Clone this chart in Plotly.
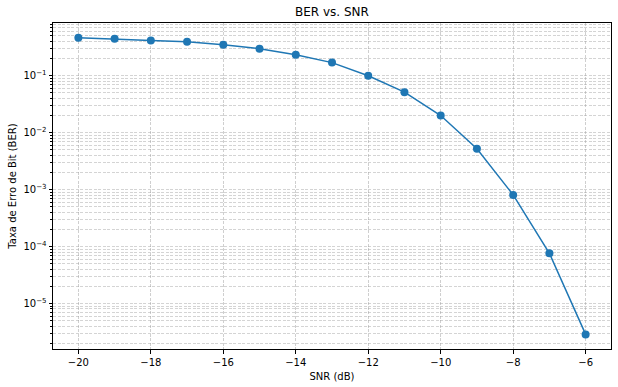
import plotly.graph_objects as go

snr_db = [-20, -19, -18, -17, -16, -15, -14, -13, -12, -11, -10, -9, -8, -7, -6]
ber = [0.463, 0.445, 0.416, 0.394, 0.350, 0.298, 0.234, 0.170, 0.100, 0.0514,
       0.020, 0.00523, 0.000806, 7.6e-5, 2.86e-6]
x_ticks = [-20, -18, -16, -14, -12, -10, -8, -6]
y_ticks = [1e-5, 1e-4, 1e-3, 1e-2, 1e-1]
y_tick_text = ["10<sup>−5</sup>", "10<sup>−4</sup>", "10<sup>−3</sup>", "10<sup>−2</sup>", "10<sup>−1</sup>"]
x_tick_text = ["−20", "−18", "−16", "−14", "−12", "−10", "−8", "−6"]

minor_vals = [m * 10.0 ** e for e in range(-6, 0) for m in range(2, 10)]

color = "#1f77b4"
fig = go.Figure()
fig.add_trace(go.Scatter(
    x=snr_db, y=ber, mode="lines+markers",
    line=dict(color=color, width=1.5),
    marker=dict(color=color, size=8),
    showlegend=False,
))

grid_color = "rgba(160,160,160,0.45)"
fig.update_layout(
    width=618, height=387,
    margin=dict(l=53, r=7, t=23, b=38),
    paper_bgcolor="white", plot_bgcolor="white",
    font=dict(family="DejaVu Sans", size=10, color="black"),
    title=dict(text="BER vs. SNR", x=0.5, xref="paper", y=1 - 12/387, yanchor="middle",
               font=dict(size=12)),
    xaxis=dict(
        title=dict(text="SNR (dB)", standoff=6, font=dict(size=10)),
        range=[-20.7, -5.3],
        tickvals=x_ticks, ticktext=x_tick_text,
        ticks="outside", ticklen=3.5, tickcolor="black",
        showline=True, linecolor="black", linewidth=1, mirror=True,
        showgrid=True, gridcolor="rgba(160,160,160,0.5)", griddash="3px,1.5px", gridwidth=1,
        zeroline=False,
    ),
    yaxis=dict(
        type="log",
        title=dict(text="Taxa de Erro de Bit (BER)", standoff=4, font=dict(size=10)),
        range=[-5.80, -0.074],
        tickvals=y_ticks, ticktext=y_tick_text,
        ticks="outside", ticklen=3.5, tickcolor="black",
        showline=True, linecolor="black", linewidth=1, mirror=True,
        showgrid=True, gridcolor=grid_color, griddash="3px,1.5px", gridwidth=0.8,
        zeroline=False,
        minor=dict(tickvals=minor_vals, ticks="outside", ticklen=2, tickcolor="black",
                   showgrid=True, gridcolor=grid_color, griddash="3px,1.5px", gridwidth=0.6),
    ),
)

fig.write_html("out.html")
